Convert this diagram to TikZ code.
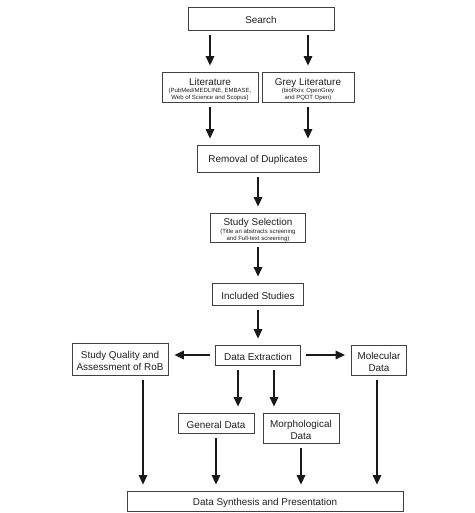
\documentclass[tikz,border=0pt]{standalone}
\usepackage{fontspec}
\setmainfont{Liberation Sans}
\usetikzlibrary{arrows.meta,calc}
\newcommand{\smtxt}{\fontsize{6}{7.5}\selectfont}
\newcommand{\tstrut}[1][11pt]{\rule{0pt}{#1}}
\begin{document}
\begin{tikzpicture}[x=1pt,y=-1pt,
  box/.style={draw=black!75, line width=0.8pt, rectangle, inner sep=0pt, align=center,
    font=\fontsize{9.9}{12}\selectfont, text=black!88},
  arr/.style={-{Triangle[length=9.5pt,width=8.5pt]}, line width=1.4pt, draw=black!90,
    shorten <=5pt, shorten >=6pt}]
\fill[white] (0,0) rectangle (474,513);
\useasboundingbox (0,0) rectangle (474,513);

\node[box, minimum width=146pt, minimum height=23pt] (search) at (261,18.5) {\tstrut Search};
\node[box, minimum width=96pt, minimum height=30pt] (lit) at (210,87)
  {\tstrut[13pt]Literature\\[-5pt]{\smtxt (PubMed/MEDLINE, EMBASE,}\\[-5pt]{\smtxt Web of Science and Scopus)}};
\node[box, minimum width=92pt, minimum height=30pt] (grey) at (308,87)
  {\tstrut[13pt]Grey Literature\\[-5pt]{\smtxt (bioRxiv, OpenGrey}\\[-5pt]{\smtxt and PQDT Open)}};
\node[box, minimum width=122pt, minimum height=27pt] (dup) at (258,158.5) {\tstrut Removal of Duplicates};
\node[box, minimum width=95pt, minimum height=29pt] (sel) at (258,227.5)
  {\tstrut[12pt]Study Selection\\[-4pt]{\smtxt (Title an abstracts screening}\\[-5pt]{\smtxt and Full-text screening)}};
\node[box, minimum width=91pt, minimum height=22pt] (inc) at (258,294) {\tstrut Included Studies};
\node[box, minimum width=85pt, minimum height=20pt] (ext) at (258,355) {\tstrut Data Extraction};
\node[box, minimum width=96pt, minimum height=32pt] (qual) at (120,359) {\tstrut Study Quality and\\Assessment of RoB};
\node[box, minimum width=55pt, minimum height=30pt] (mol) at (379,360) {\tstrut Molecular\\Data};
\node[box, minimum width=76pt, minimum height=20pt] (gen) at (216,423) {\tstrut General Data};
\node[box, minimum width=76pt, minimum height=30pt] (morph) at (301,428) {\tstrut Morphological\\Data};
\node[box, minimum width=276pt, minimum height=20pt] (syn) at (265,501) {\tstrut Data Synthesis and Presentation};

\draw[arr] (search.south -| lit) -- (lit.north);
\draw[arr] (search.south -| grey) -- (grey.north);
\draw[arr] (lit.south) -- (lit.south |- dup.north);
\draw[arr] (grey.south) -- (grey.south |- dup.north);
\draw[arr] (dup.south) -- (sel.north);
\draw[arr] (sel.south) -- (inc.north);
\draw[arr] (inc.south) -- (ext.north);
\draw[arr] (ext.west) -- (ext.west -| qual.east);
\draw[arr] (ext.east) -- (ext.east -| mol.west);
\draw[arr] ([xshift=-20pt]ext.south) -- ([xshift=-20pt]ext.south |- gen.north);
\draw[arr] ([xshift=16pt]ext.south) -- ([xshift=16pt]ext.south |- morph.north);
\draw[arr] (gen.south) -- (gen.south |- syn.north);
\draw[arr] (morph.south) -- (morph.south |- syn.north);
\draw[arr] ([xshift=23pt]qual.south) -- ([xshift=23pt]qual.south |- syn.north);
\draw[arr] ([xshift=-2pt]mol.south) -- ([xshift=-2pt]mol.south |- syn.north);
\end{tikzpicture}
\end{document}
